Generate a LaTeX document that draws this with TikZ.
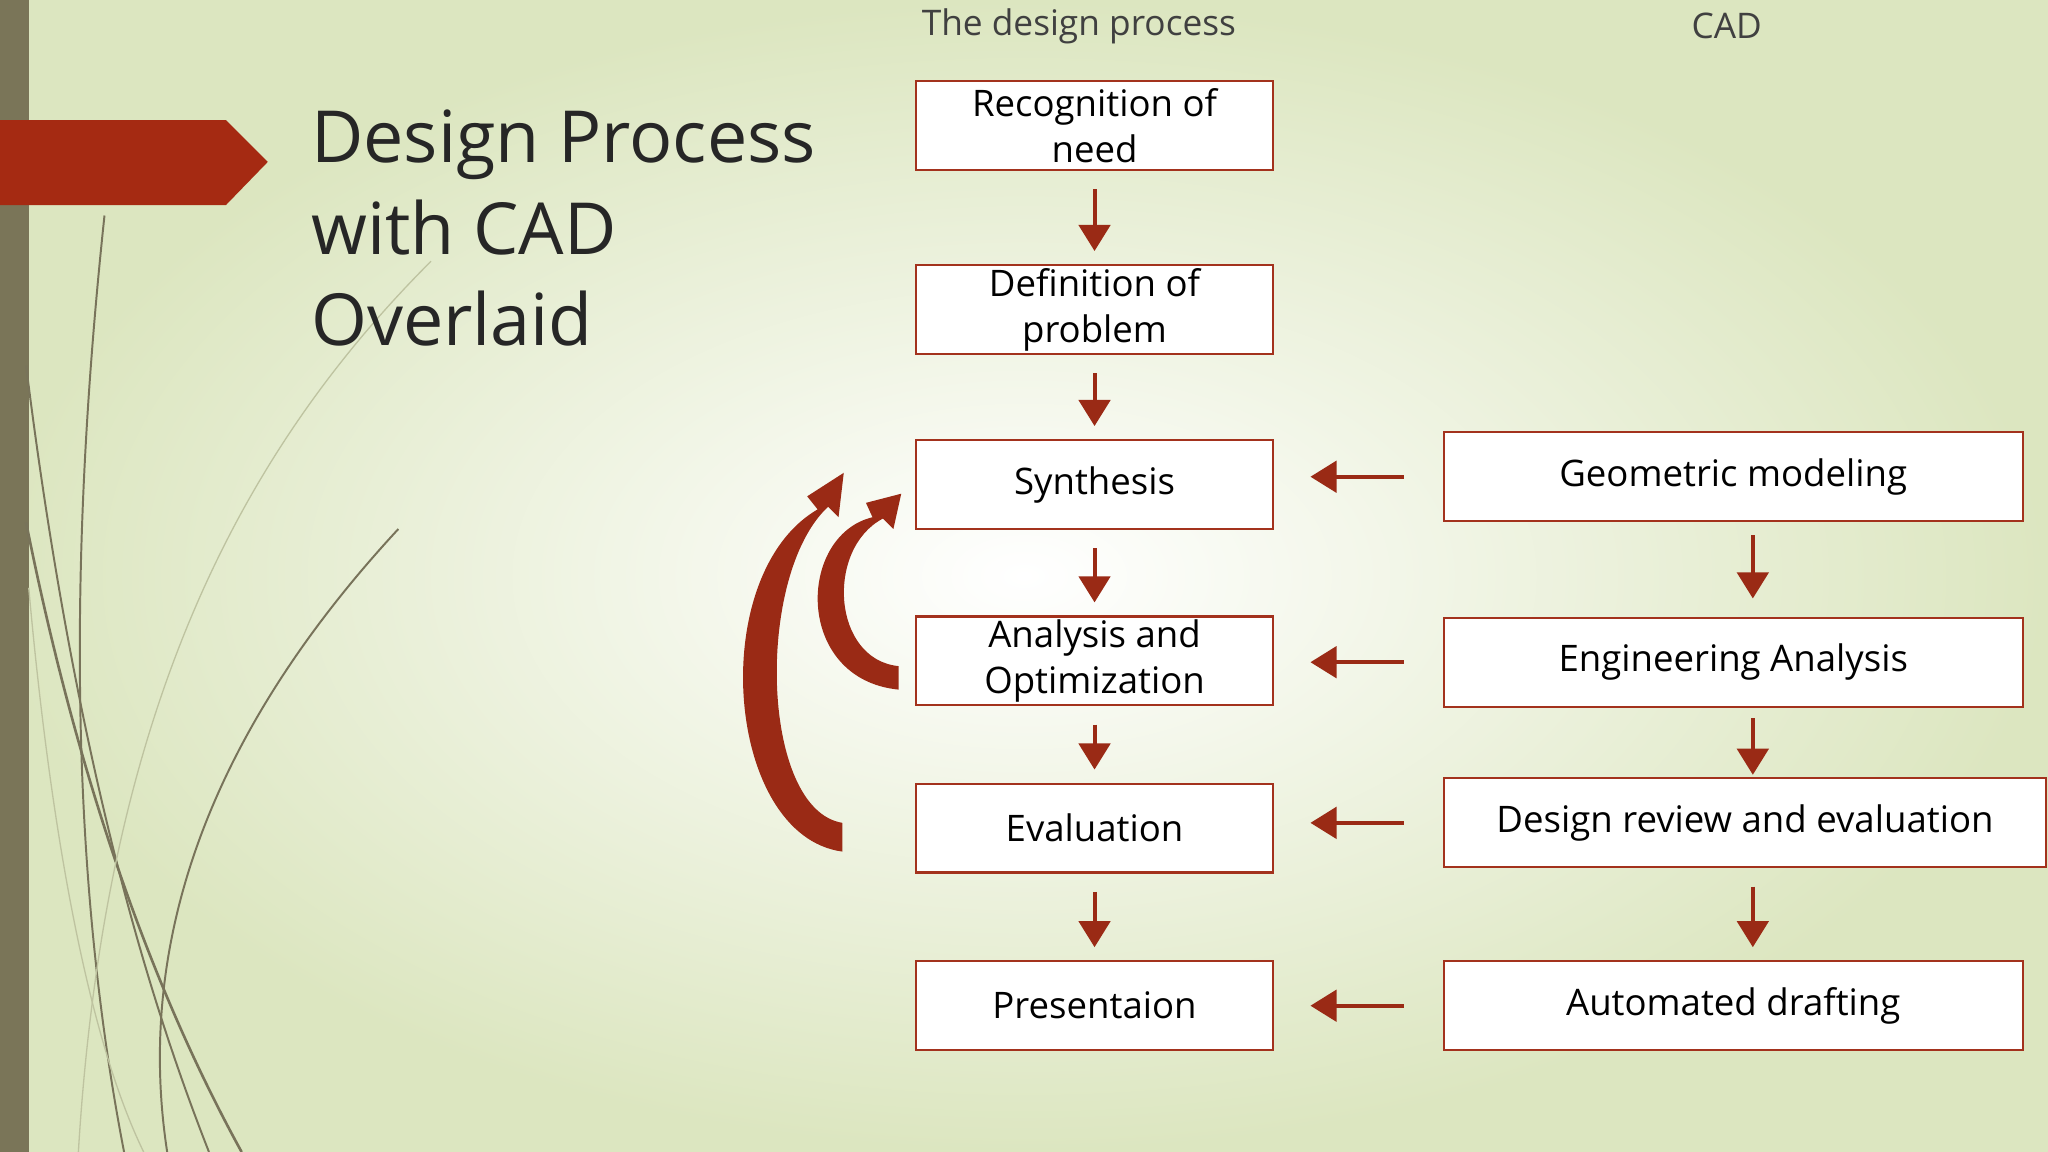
\documentclass[tikz,border=0pt]{standalone}
\usepackage{fontspec}
\setmainfont{Open Sans}
\usetikzlibrary{arrows.meta}
\definecolor{boxred}{HTML}{A3321D}
\definecolor{arrred}{HTML}{9A2A15}
\definecolor{bgout}{HTML}{DCE6C0}
\definecolor{stripe}{HTML}{7A7558}
\definecolor{curve}{HTML}{78735A}
\definecolor{curvelt}{HTML}{BEC3A0}
\definecolor{tagred}{HTML}{A52A12}
\begin{document}
\begin{tikzpicture}[x=1pt,y=-1pt,
 bx/.style={draw=boxred,line width=1.6pt,fill=white,minimum height=68pt,inner sep=0pt,align=center,font=\fontsize{28}{35}\selectfont},
 ar/.style={draw=arrred,line width=3pt,-{Triangle[length=20pt,width=24pt]}}]
\useasboundingbox (0,0) rectangle (1568,882);
\shade[inner color=white,outer color=bgout] (0,0) rectangle (1568,882);
\fill[stripe] (0,0) rectangle (22,882);
% decorative curves
\draw[line width=1.5pt,curve] (20,280) .. controls (60,600) and (120,780) .. (160,882);
\draw[line width=2pt,curve] (20,400) .. controls (70,650) and (140,800) .. (185,882);
\draw[line width=1.5pt,curve] (80,165) .. controls (55,400) and (50,650) .. (95,882);
\draw[line width=1.5pt,curve] (305,405) .. controls (180,540) and (100,700) .. (128,882);
\draw[line width=1pt,curvelt] (330,200) .. controls (180,350) and (80,550) .. (60,882);
\draw[line width=1pt,curvelt] (22,450) .. controls (40,650) and (70,800) .. (110,882);
\fill[tagred] (0,92) -- (173,92) -- (205,124) -- (173,157) -- (0,157) -- cycle;
\node[anchor=north west,align=left,inner sep=0pt,text=black!85,font=\fontsize{55}{70}\selectfont] (title) at (238,84) {Design Process\\with CAD\\Overlaid};
\node[font=\fontsize{27}{31}\selectfont,text=black!75] (h1) at (826,20) {The design process};
\node[font=\fontsize{27}{31}\selectfont,text=black!75] (h2) at (1322,20) {CAD};
% left column
\node[bx,minimum width=273pt] (l1) at (838,96) {Recognition of\\need};
\node[bx,minimum width=273pt] (l2) at (838,237) {Definition of\\problem};
\node[bx,minimum width=273pt] (l3) at (838,371) {Synthesis};
\node[bx,minimum width=273pt] (l4) at (838,506) {Analysis and\\Optimization};
\node[bx,minimum width=273pt] (l5) at (838,634) {Evaluation};
\node[bx,minimum width=273pt] (l6) at (838,770) {Presentaion};
% right column
\node[bx,minimum width=443pt] (r1) at (1327,365) {Geometric modeling};
\node[bx,minimum width=443pt] (r2) at (1327,507) {Engineering Analysis};
\node[bx,minimum width=461pt] (r3) at (1336,630) {Design review and evaluation};
\node[bx,minimum width=443pt] (r4) at (1327,770) {Automated drafting};
% vertical arrows
\foreach \a/\b in {l1/l2,l2/l3,l3/l4,l4/l5,l5/l6}
  \draw[ar] ([yshift=-14pt]\a.south) -- ([yshift=10pt]\b.north);
\draw[ar] ([xshift=15pt,yshift=-10pt]r1.south) -- ([xshift=15pt,yshift=14pt]r2.north);
\draw[ar] ([xshift=15pt,yshift=-8pt]r2.south) -- ([xshift=6pt,yshift=2pt]r3.north);
\draw[ar] ([xshift=6pt,yshift=-14pt]r3.south) -- ([xshift=15pt,yshift=10pt]r4.north);
% horizontal arrows
\foreach \a/\b in {r1/l3,r2/l4,r3/l5,r4/l6}
  \draw[ar] ([xshift=-30pt]\a.west) -- ([xshift=28pt]\b.east |- \a.west);
% curved arrows
\fill[arrred] (645,652) .. controls (555,640) and (540,440) .. (626,390)
  -- (618,380) -- (646,362) -- (642,396) -- (634,388)
  .. controls (578,440) and (582,620) .. (645,630) -- cycle;
\fill[arrred] (688,528) .. controls (608,520) and (610,410) .. (668,396)
  -- (663,385) -- (690,378) -- (684,405) -- (676,397)
  .. controls (632,420) and (637,505) .. (688,510) -- cycle;
\end{tikzpicture}
\end{document}
